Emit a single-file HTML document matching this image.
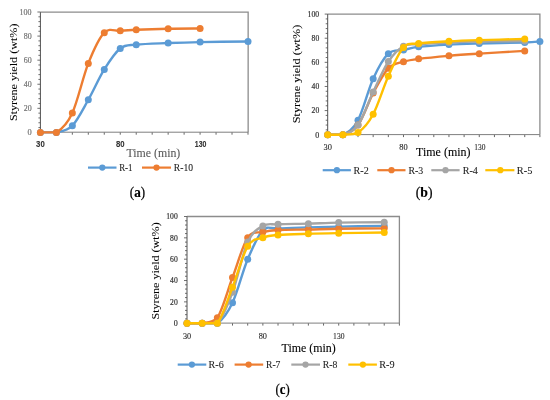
<!DOCTYPE html>
<html><head><meta charset="utf-8"><title>Styrene yield</title>
<style>html,body{margin:0;padding:0;background:#fff;width:550px;height:400px;overflow:hidden}svg{display:block}</style>
</head><body>
<svg width="550" height="400" viewBox="0 0 550 400">
<rect width="550" height="400" fill="#fff"/>
<path d="M40.40,12.15H248.15V132.20" fill="none" stroke="#8c8c8c" stroke-width="1.30"/>
<path d="M37.40,132.40H40.40M38.40,127.58H40.40M38.40,122.77H40.40M38.40,117.95H40.40M38.40,113.14H40.40M37.40,108.32H40.40M38.40,103.50H40.40M38.40,98.69H40.40M38.40,93.87H40.40M38.40,89.06H40.40M37.40,84.24H40.40M38.40,79.42H40.40M38.40,74.61H40.40M38.40,69.79H40.40M38.40,64.98H40.40M37.40,60.16H40.40M38.40,55.34H40.40M38.40,50.53H40.40M38.40,45.71H40.40M38.40,40.90H40.40M37.40,36.08H40.40M38.40,31.26H40.40M38.40,26.45H40.40M38.40,21.63H40.40M38.40,16.82H40.40M37.40,12.00H40.40" stroke="#606060" stroke-width="0.9" fill="none"/>
<line x1="40.40" y1="12.15" x2="40.40" y2="132.20" stroke="#505050" stroke-width="1"/>
<path d="M40.40,132.20V134.70M56.37,132.20V134.70M72.34,132.20V134.70M88.31,132.20V134.70M104.28,132.20V134.70M120.25,132.20V134.70M136.22,132.20V134.70M152.18,132.20V134.70M168.15,132.20V134.70M184.12,132.20V134.70M200.09,132.20V134.70M216.06,132.20V134.70M232.03,132.20V134.70M248.00,132.20V134.70" stroke="#555555" stroke-width="0.9" fill="none"/>
<line x1="40.40" y1="132.20" x2="248.15" y2="132.20" stroke="#7f7f7f" stroke-width="1"/>
<path d="M40.40,132.40 C43.06,132.40 51.05,132.40 56.37,132.40 C61.69,131.28 67.02,131.10 72.34,125.66 C77.66,120.22 82.98,109.14 88.31,99.77 C93.63,90.40 98.95,77.98 104.28,69.43 C109.60,60.88 114.92,52.61 120.25,48.48 C125.57,44.35 128.23,45.53 136.22,44.63 C144.20,43.73 157.51,43.48 168.15,43.06 C178.80,42.64 186.78,42.36 200.09,42.10 C213.40,41.84 240.02,41.60 248.00,41.50" stroke="#5B9BD5" stroke-width="2.40" fill="none" stroke-linejoin="round" stroke-linecap="round"/>
<circle cx="40.40" cy="132.40" r="3.50" fill="#5B9BD5"/>
<circle cx="56.37" cy="132.40" r="3.50" fill="#5B9BD5"/>
<circle cx="72.34" cy="125.66" r="3.50" fill="#5B9BD5"/>
<circle cx="88.31" cy="99.77" r="3.50" fill="#5B9BD5"/>
<circle cx="104.28" cy="69.43" r="3.50" fill="#5B9BD5"/>
<circle cx="120.25" cy="48.48" r="3.50" fill="#5B9BD5"/>
<circle cx="136.22" cy="44.63" r="3.50" fill="#5B9BD5"/>
<circle cx="168.15" cy="43.06" r="3.50" fill="#5B9BD5"/>
<circle cx="200.09" cy="42.10" r="3.50" fill="#5B9BD5"/>
<circle cx="248.00" cy="41.50" r="3.50" fill="#5B9BD5"/>
<path d="M40.40,132.40 C43.06,132.40 51.05,132.40 56.37,132.40 C61.69,129.15 67.02,124.39 72.34,112.90 C77.66,101.40 82.98,76.78 88.31,63.41 C93.63,50.05 98.95,38.15 104.28,32.71 C109.60,27.27 114.92,31.28 120.25,30.78 C125.57,30.28 128.23,30.04 136.22,29.70 C144.20,29.36 157.51,28.94 168.15,28.74 C178.80,28.53 194.77,28.53 200.09,28.49" stroke="#ED7D31" stroke-width="2.40" fill="none" stroke-linejoin="round" stroke-linecap="round"/>
<circle cx="40.40" cy="132.40" r="3.50" fill="#ED7D31"/>
<circle cx="56.37" cy="132.40" r="3.50" fill="#ED7D31"/>
<circle cx="72.34" cy="112.90" r="3.50" fill="#ED7D31"/>
<circle cx="88.31" cy="63.41" r="3.50" fill="#ED7D31"/>
<circle cx="104.28" cy="32.71" r="3.50" fill="#ED7D31"/>
<circle cx="120.25" cy="30.78" r="3.50" fill="#ED7D31"/>
<circle cx="136.22" cy="29.70" r="3.50" fill="#ED7D31"/>
<circle cx="168.15" cy="28.74" r="3.50" fill="#ED7D31"/>
<circle cx="200.09" cy="28.49" r="3.50" fill="#ED7D31"/>
<text x="31.60" y="135.40" font-family='"Liberation Serif", serif' font-size="9.00" fill="#737373" text-anchor="end" font-weight="normal" textLength="4.20" lengthAdjust="spacingAndGlyphs" stroke="#737373" stroke-width="0.20">0</text>
<text x="31.60" y="111.32" font-family='"Liberation Serif", serif' font-size="9.00" fill="#737373" text-anchor="end" font-weight="normal" textLength="7.90" lengthAdjust="spacingAndGlyphs" stroke="#737373" stroke-width="0.20">20</text>
<text x="31.60" y="87.24" font-family='"Liberation Serif", serif' font-size="9.00" fill="#737373" text-anchor="end" font-weight="normal" textLength="7.90" lengthAdjust="spacingAndGlyphs" stroke="#737373" stroke-width="0.20">40</text>
<text x="31.60" y="63.16" font-family='"Liberation Serif", serif' font-size="9.00" fill="#737373" text-anchor="end" font-weight="normal" textLength="7.90" lengthAdjust="spacingAndGlyphs" stroke="#737373" stroke-width="0.20">60</text>
<text x="31.60" y="39.08" font-family='"Liberation Serif", serif' font-size="9.00" fill="#737373" text-anchor="end" font-weight="normal" textLength="7.90" lengthAdjust="spacingAndGlyphs" stroke="#737373" stroke-width="0.20">80</text>
<text x="31.60" y="15.00" font-family='"Liberation Serif", serif' font-size="9.00" fill="#737373" text-anchor="end" font-weight="normal" textLength="12.00" lengthAdjust="spacingAndGlyphs" stroke="#737373" stroke-width="0.20">100</text>
<text x="40.40" y="146.90" font-family='"Liberation Sans", sans-serif' font-size="8.80" fill="#333333" text-anchor="middle" font-weight="bold" textLength="8.60" lengthAdjust="spacingAndGlyphs" stroke="#333333" stroke-width="0.10">30</text>
<text x="120.30" y="146.90" font-family='"Liberation Sans", sans-serif' font-size="8.80" fill="#333333" text-anchor="middle" font-weight="bold" textLength="8.60" lengthAdjust="spacingAndGlyphs" stroke="#333333" stroke-width="0.10">80</text>
<text x="200.60" y="146.90" font-family='"Liberation Sans", sans-serif' font-size="8.80" fill="#333333" text-anchor="middle" font-weight="bold" textLength="11.60" lengthAdjust="spacingAndGlyphs" stroke="#333333" stroke-width="0.10">130</text>
<text x="126.50" y="157.40" font-family='"Liberation Serif", serif' font-size="12.00" fill="#595959" text-anchor="start" font-weight="normal" textLength="53.80" lengthAdjust="spacingAndGlyphs" stroke="#595959" stroke-width="0.10">Time (min)</text>
<text transform="translate(17.40,72.30) rotate(-90)" x="0" y="0" font-family='"Liberation Serif", serif' font-size="10.40" fill="#000" stroke="#000" stroke-width="0.05" text-anchor="middle" textLength="97.50" lengthAdjust="spacingAndGlyphs">Styrene yield (wt%)</text>
<line x1="88.00" y1="167.60" x2="116.50" y2="167.60" stroke="#5B9BD5" stroke-width="2.20"/>
<circle cx="102.30" cy="167.60" r="3.15" fill="#5B9BD5"/>
<text x="119.20" y="170.90" font-family='"Liberation Serif", serif' font-size="10.10" fill="#1f1f1f" text-anchor="start" font-weight="normal" textLength="13.30" lengthAdjust="spacingAndGlyphs" stroke="#1f1f1f" stroke-width="0.10">R-1</text>
<line x1="142.00" y1="167.60" x2="171.00" y2="167.60" stroke="#ED7D31" stroke-width="2.20"/>
<circle cx="156.50" cy="167.60" r="3.15" fill="#ED7D31"/>
<text x="173.80" y="170.90" font-family='"Liberation Serif", serif' font-size="10.10" fill="#1f1f1f" text-anchor="start" font-weight="normal" textLength="19.20" lengthAdjust="spacingAndGlyphs" stroke="#1f1f1f" stroke-width="0.10">R-10</text>
<text x="129.80" y="196.70" font-family='"Liberation Serif", serif' font-size="13.60" fill="#000" stroke="#000" stroke-width="0.2" textLength="15.30" lengthAdjust="spacingAndGlyphs">(<tspan font-weight="bold">a</tspan>)</text>
<path d="M327.70,14.10H539.90V134.60" fill="none" stroke="#8c8c8c" stroke-width="1.30"/>
<path d="M324.70,134.70H327.70M325.70,129.88H327.70M325.70,125.05H327.70M325.70,120.23H327.70M325.70,115.40H327.70M324.70,110.58H327.70M325.70,105.76H327.70M325.70,100.93H327.70M325.70,96.11H327.70M325.70,91.28H327.70M324.70,86.46H327.70M325.70,81.64H327.70M325.70,76.81H327.70M325.70,71.99H327.70M325.70,67.16H327.70M324.70,62.34H327.70M325.70,57.52H327.70M325.70,52.69H327.70M325.70,47.87H327.70M325.70,43.04H327.70M324.70,38.22H327.70M325.70,33.40H327.70M325.70,28.57H327.70M325.70,23.75H327.70M325.70,18.92H327.70M324.70,14.10H327.70" stroke="#606060" stroke-width="0.9" fill="none"/>
<line x1="327.70" y1="14.10" x2="327.70" y2="134.60" stroke="#505050" stroke-width="1"/>
<path d="M327.70,134.60V137.10M342.86,134.60V137.10M358.01,134.60V137.10M373.17,134.60V137.10M388.33,134.60V137.10M403.49,134.60V137.10M418.64,134.60V137.10M433.80,134.60V137.10M448.96,134.60V137.10M464.11,134.60V137.10M479.27,134.60V137.10M494.43,134.60V137.10M509.59,134.60V137.10M524.74,134.60V137.10M539.90,134.60V137.10" stroke="#555555" stroke-width="0.9" fill="none"/>
<line x1="327.70" y1="134.60" x2="539.90" y2="134.60" stroke="#7f7f7f" stroke-width="1"/>
<path d="M327.70,134.70 C330.23,134.70 337.80,134.70 342.86,134.70 C347.91,132.29 352.96,129.55 358.01,120.23 C363.07,110.90 368.12,89.84 373.17,78.74 C378.22,67.65 383.28,58.44 388.33,53.66 C393.38,48.87 398.43,51.18 403.49,50.04 C408.54,48.89 411.06,47.69 418.64,46.78 C426.22,45.88 438.85,45.15 448.96,44.61 C459.06,44.07 466.64,43.89 479.27,43.53 C491.90,43.16 514.64,42.78 524.74,42.44 C534.85,42.10 537.37,41.64 539.90,41.48" stroke="#5B9BD5" stroke-width="2.40" fill="none" stroke-linejoin="round" stroke-linecap="round"/>
<circle cx="327.70" cy="134.70" r="3.50" fill="#5B9BD5"/>
<circle cx="342.86" cy="134.70" r="3.50" fill="#5B9BD5"/>
<circle cx="358.01" cy="120.23" r="3.50" fill="#5B9BD5"/>
<circle cx="373.17" cy="78.74" r="3.50" fill="#5B9BD5"/>
<circle cx="388.33" cy="53.66" r="3.50" fill="#5B9BD5"/>
<circle cx="403.49" cy="50.04" r="3.50" fill="#5B9BD5"/>
<circle cx="418.64" cy="46.78" r="3.50" fill="#5B9BD5"/>
<circle cx="448.96" cy="44.61" r="3.50" fill="#5B9BD5"/>
<circle cx="479.27" cy="43.53" r="3.50" fill="#5B9BD5"/>
<circle cx="524.74" cy="42.44" r="3.50" fill="#5B9BD5"/>
<circle cx="539.90" cy="41.48" r="3.50" fill="#5B9BD5"/>
<path d="M327.70,134.70 C330.23,134.70 337.80,134.70 342.86,134.70 C347.91,133.09 352.96,131.99 358.01,125.05 C363.07,118.12 368.12,102.54 373.17,93.09 C378.22,83.65 383.28,73.60 388.33,68.37 C393.38,63.14 398.43,63.32 403.49,61.74 C408.54,60.15 411.06,59.83 418.64,58.84 C426.22,57.86 438.85,56.69 448.96,55.83 C459.06,54.96 466.64,54.48 479.27,53.66 C491.90,52.83 517.16,51.35 524.74,50.88" stroke="#ED7D31" stroke-width="2.40" fill="none" stroke-linejoin="round" stroke-linecap="round"/>
<circle cx="327.70" cy="134.70" r="3.50" fill="#ED7D31"/>
<circle cx="342.86" cy="134.70" r="3.50" fill="#ED7D31"/>
<circle cx="358.01" cy="125.05" r="3.50" fill="#ED7D31"/>
<circle cx="373.17" cy="93.09" r="3.50" fill="#ED7D31"/>
<circle cx="388.33" cy="68.37" r="3.50" fill="#ED7D31"/>
<circle cx="403.49" cy="61.74" r="3.50" fill="#ED7D31"/>
<circle cx="418.64" cy="58.84" r="3.50" fill="#ED7D31"/>
<circle cx="448.96" cy="55.83" r="3.50" fill="#ED7D31"/>
<circle cx="479.27" cy="53.66" r="3.50" fill="#ED7D31"/>
<circle cx="524.74" cy="50.88" r="3.50" fill="#ED7D31"/>
<path d="M327.70,134.70 C330.23,134.70 337.80,134.70 342.86,134.70 C347.91,133.09 352.96,132.17 358.01,125.05 C363.07,117.94 368.12,102.58 373.17,92.01 C378.22,81.44 383.28,69.25 388.33,61.62 C393.38,53.98 398.43,49.07 403.49,46.18 C408.54,43.29 411.06,44.87 418.64,44.25 C426.22,43.63 438.85,42.90 448.96,42.44 C459.06,41.98 466.64,41.70 479.27,41.48 C491.90,41.26 517.16,41.17 524.74,41.11" stroke="#A5A5A5" stroke-width="2.40" fill="none" stroke-linejoin="round" stroke-linecap="round"/>
<circle cx="327.70" cy="134.70" r="3.50" fill="#A5A5A5"/>
<circle cx="342.86" cy="134.70" r="3.50" fill="#A5A5A5"/>
<circle cx="358.01" cy="125.05" r="3.50" fill="#A5A5A5"/>
<circle cx="373.17" cy="92.01" r="3.50" fill="#A5A5A5"/>
<circle cx="388.33" cy="61.62" r="3.50" fill="#A5A5A5"/>
<circle cx="403.49" cy="46.18" r="3.50" fill="#A5A5A5"/>
<circle cx="418.64" cy="44.25" r="3.50" fill="#A5A5A5"/>
<circle cx="448.96" cy="42.44" r="3.50" fill="#A5A5A5"/>
<circle cx="479.27" cy="41.48" r="3.50" fill="#A5A5A5"/>
<circle cx="524.74" cy="41.11" r="3.50" fill="#A5A5A5"/>
<path d="M327.70,134.70 C330.23,134.70 337.80,134.70 342.86,134.70 C347.91,134.34 352.96,134.70 358.01,132.53 C363.07,129.11 368.12,123.58 373.17,114.20 C378.22,104.81 383.28,87.34 388.33,76.21 C393.38,65.07 398.43,52.83 403.49,47.39 C408.54,41.94 411.06,44.53 418.64,43.53 C426.22,42.52 438.85,41.92 448.96,41.36 C459.06,40.79 466.64,40.55 479.27,40.15 C491.90,39.75 517.16,39.14 524.74,38.94" stroke="#FFC000" stroke-width="2.40" fill="none" stroke-linejoin="round" stroke-linecap="round"/>
<circle cx="327.70" cy="134.70" r="3.50" fill="#FFC000"/>
<circle cx="342.86" cy="134.70" r="3.50" fill="#FFC000"/>
<circle cx="358.01" cy="132.53" r="3.50" fill="#FFC000"/>
<circle cx="373.17" cy="114.20" r="3.50" fill="#FFC000"/>
<circle cx="388.33" cy="76.21" r="3.50" fill="#FFC000"/>
<circle cx="403.49" cy="47.39" r="3.50" fill="#FFC000"/>
<circle cx="418.64" cy="43.53" r="3.50" fill="#FFC000"/>
<circle cx="448.96" cy="41.36" r="3.50" fill="#FFC000"/>
<circle cx="479.27" cy="40.15" r="3.50" fill="#FFC000"/>
<circle cx="524.74" cy="38.94" r="3.50" fill="#FFC000"/>
<text x="319.20" y="137.60" font-family='"Liberation Serif", serif' font-size="8.40" fill="#333333" text-anchor="end" font-weight="normal" textLength="4.00" lengthAdjust="spacingAndGlyphs" stroke="#333333" stroke-width="0.20">0</text>
<text x="319.20" y="113.48" font-family='"Liberation Serif", serif' font-size="8.40" fill="#333333" text-anchor="end" font-weight="normal" textLength="7.60" lengthAdjust="spacingAndGlyphs" stroke="#333333" stroke-width="0.20">20</text>
<text x="319.20" y="89.36" font-family='"Liberation Serif", serif' font-size="8.40" fill="#333333" text-anchor="end" font-weight="normal" textLength="7.60" lengthAdjust="spacingAndGlyphs" stroke="#333333" stroke-width="0.20">40</text>
<text x="319.20" y="65.24" font-family='"Liberation Serif", serif' font-size="8.40" fill="#333333" text-anchor="end" font-weight="normal" textLength="7.60" lengthAdjust="spacingAndGlyphs" stroke="#333333" stroke-width="0.20">60</text>
<text x="319.20" y="41.12" font-family='"Liberation Serif", serif' font-size="8.40" fill="#333333" text-anchor="end" font-weight="normal" textLength="7.60" lengthAdjust="spacingAndGlyphs" stroke="#333333" stroke-width="0.20">80</text>
<text x="319.20" y="17.00" font-family='"Liberation Serif", serif' font-size="8.40" fill="#333333" text-anchor="end" font-weight="normal" textLength="11.60" lengthAdjust="spacingAndGlyphs" stroke="#333333" stroke-width="0.20">100</text>
<text x="327.70" y="149.70" font-family='"Liberation Serif", serif' font-size="8.20" fill="#262626" text-anchor="middle" font-weight="normal" textLength="8.40" lengthAdjust="spacingAndGlyphs" stroke="#262626" stroke-width="0.10">30</text>
<text x="403.50" y="149.70" font-family='"Liberation Serif", serif' font-size="8.20" fill="#262626" text-anchor="middle" font-weight="normal" textLength="8.40" lengthAdjust="spacingAndGlyphs" stroke="#262626" stroke-width="0.10">80</text>
<text x="479.80" y="149.70" font-family='"Liberation Serif", serif' font-size="8.20" fill="#262626" text-anchor="middle" font-weight="normal" textLength="11.20" lengthAdjust="spacingAndGlyphs" stroke="#262626" stroke-width="0.10">130</text>
<text x="416.10" y="155.50" font-family='"Liberation Serif", serif' font-size="11.70" fill="#000" text-anchor="start" font-weight="normal" textLength="54.40" lengthAdjust="spacingAndGlyphs" stroke="#000" stroke-width="0.10">Time (min)</text>
<text transform="translate(300.30,74.00) rotate(-90)" x="0" y="0" font-family='"Liberation Serif", serif' font-size="10.40" fill="#000" stroke="#000" stroke-width="0.05" text-anchor="middle" textLength="98.50" lengthAdjust="spacingAndGlyphs">Styrene yield (wt%)</text>
<line x1="322.70" y1="170.20" x2="350.90" y2="170.20" stroke="#5B9BD5" stroke-width="2.20"/>
<circle cx="336.90" cy="170.20" r="3.15" fill="#5B9BD5"/>
<text x="353.60" y="173.50" font-family='"Liberation Serif", serif' font-size="10.10" fill="#1f1f1f" text-anchor="start" font-weight="normal" textLength="15.10" lengthAdjust="spacingAndGlyphs" stroke="#1f1f1f" stroke-width="0.10">R-2</text>
<line x1="377.30" y1="170.20" x2="405.50" y2="170.20" stroke="#ED7D31" stroke-width="2.20"/>
<circle cx="391.50" cy="170.20" r="3.15" fill="#ED7D31"/>
<text x="408.50" y="173.50" font-family='"Liberation Serif", serif' font-size="10.10" fill="#1f1f1f" text-anchor="start" font-weight="normal" textLength="14.80" lengthAdjust="spacingAndGlyphs" stroke="#1f1f1f" stroke-width="0.10">R-3</text>
<line x1="431.30" y1="170.20" x2="459.60" y2="170.20" stroke="#A5A5A5" stroke-width="2.20"/>
<circle cx="445.50" cy="170.20" r="3.15" fill="#A5A5A5"/>
<text x="462.70" y="173.50" font-family='"Liberation Serif", serif' font-size="10.10" fill="#1f1f1f" text-anchor="start" font-weight="normal" textLength="15.10" lengthAdjust="spacingAndGlyphs" stroke="#1f1f1f" stroke-width="0.10">R-4</text>
<line x1="485.30" y1="170.20" x2="514.40" y2="170.20" stroke="#FFC000" stroke-width="2.20"/>
<circle cx="500.30" cy="170.20" r="3.15" fill="#FFC000"/>
<text x="516.80" y="173.50" font-family='"Liberation Serif", serif' font-size="10.10" fill="#1f1f1f" text-anchor="start" font-weight="normal" textLength="15.50" lengthAdjust="spacingAndGlyphs" stroke="#1f1f1f" stroke-width="0.10">R-5</text>
<text x="415.80" y="197.30" font-family='"Liberation Serif", serif' font-size="13.60" fill="#000" stroke="#000" stroke-width="0.2" textLength="16.70" lengthAdjust="spacingAndGlyphs">(<tspan font-weight="bold">b</tspan>)</text>
<path d="M187.00,216.50H399.40V323.10" fill="none" stroke="#8c8c8c" stroke-width="1.30"/>
<path d="M184.00,323.20H187.00M185.00,318.93H187.00M185.00,314.66H187.00M185.00,310.40H187.00M185.00,306.13H187.00M184.00,301.86H187.00M185.00,297.59H187.00M185.00,293.32H187.00M185.00,289.06H187.00M185.00,284.79H187.00M184.00,280.52H187.00M185.00,276.25H187.00M185.00,271.98H187.00M185.00,267.72H187.00M185.00,263.45H187.00M184.00,259.18H187.00M185.00,254.91H187.00M185.00,250.64H187.00M185.00,246.38H187.00M185.00,242.11H187.00M184.00,237.84H187.00M185.00,233.57H187.00M185.00,229.30H187.00M185.00,225.04H187.00M185.00,220.77H187.00M184.00,216.50H187.00" stroke="#606060" stroke-width="0.9" fill="none"/>
<line x1="187.00" y1="216.50" x2="187.00" y2="323.10" stroke="#505050" stroke-width="1"/>
<path d="M187.00,323.10V325.60M202.17,323.10V325.60M217.34,323.10V325.60M232.51,323.10V325.60M247.69,323.10V325.60M262.86,323.10V325.60M278.03,323.10V325.60M293.20,323.10V325.60M308.37,323.10V325.60M323.54,323.10V325.60M338.71,323.10V325.60M353.89,323.10V325.60M369.06,323.10V325.60M384.23,323.10V325.60M399.40,323.10V325.60" stroke="#555555" stroke-width="0.9" fill="none"/>
<line x1="187.00" y1="323.10" x2="399.40" y2="323.10" stroke="#7f7f7f" stroke-width="1"/>
<path d="M187.00,323.20 C189.53,323.20 197.11,323.20 202.17,323.20 C207.23,323.20 212.29,323.20 217.34,323.20 C222.40,319.79 227.46,313.37 232.51,302.71 C237.57,292.06 242.63,271.34 247.69,259.29 C252.74,247.23 257.80,235.51 262.86,230.37 C267.91,225.23 270.44,228.95 278.03,228.45 C285.61,227.95 298.26,227.69 308.37,227.38 C318.49,227.08 326.07,226.89 338.71,226.64 C351.36,226.39 376.64,226.01 384.23,225.89" stroke="#5B9BD5" stroke-width="2.40" fill="none" stroke-linejoin="round" stroke-linecap="round"/>
<circle cx="187.00" cy="323.20" r="3.50" fill="#5B9BD5"/>
<circle cx="202.17" cy="323.20" r="3.50" fill="#5B9BD5"/>
<circle cx="217.34" cy="323.20" r="3.50" fill="#5B9BD5"/>
<circle cx="232.51" cy="302.71" r="3.50" fill="#5B9BD5"/>
<circle cx="247.69" cy="259.29" r="3.50" fill="#5B9BD5"/>
<circle cx="262.86" cy="230.37" r="3.50" fill="#5B9BD5"/>
<circle cx="278.03" cy="228.45" r="3.50" fill="#5B9BD5"/>
<circle cx="308.37" cy="227.38" r="3.50" fill="#5B9BD5"/>
<circle cx="338.71" cy="226.64" r="3.50" fill="#5B9BD5"/>
<circle cx="384.23" cy="225.89" r="3.50" fill="#5B9BD5"/>
<path d="M187.00,323.20 C189.53,323.20 197.11,323.20 202.17,323.20 C207.23,322.29 212.29,323.20 217.34,317.76 C222.40,310.15 227.46,290.89 232.51,277.53 C237.57,264.18 242.63,245.20 247.69,237.63 C252.74,230.05 257.80,233.34 262.86,232.08 C267.91,230.82 270.44,230.48 278.03,230.05 C285.61,229.62 298.26,229.73 308.37,229.52 C318.49,229.30 326.07,228.97 338.71,228.77 C351.36,228.57 376.64,228.41 384.23,228.34" stroke="#ED7D31" stroke-width="2.40" fill="none" stroke-linejoin="round" stroke-linecap="round"/>
<circle cx="187.00" cy="323.20" r="3.50" fill="#ED7D31"/>
<circle cx="202.17" cy="323.20" r="3.50" fill="#ED7D31"/>
<circle cx="217.34" cy="317.76" r="3.50" fill="#ED7D31"/>
<circle cx="232.51" cy="277.53" r="3.50" fill="#ED7D31"/>
<circle cx="247.69" cy="237.63" r="3.50" fill="#ED7D31"/>
<circle cx="262.86" cy="232.08" r="3.50" fill="#ED7D31"/>
<circle cx="278.03" cy="230.05" r="3.50" fill="#ED7D31"/>
<circle cx="308.37" cy="229.52" r="3.50" fill="#ED7D31"/>
<circle cx="338.71" cy="228.77" r="3.50" fill="#ED7D31"/>
<circle cx="384.23" cy="228.34" r="3.50" fill="#ED7D31"/>
<path d="M187.00,323.20 C189.53,323.20 197.11,323.20 202.17,323.20 C207.23,323.20 212.29,323.20 217.34,323.20 C222.40,318.04 227.46,305.77 232.51,292.26 C237.57,278.74 242.63,253.17 247.69,242.11 C252.74,231.05 257.80,228.86 262.86,225.89 C267.91,222.92 270.44,224.66 278.03,224.29 C285.61,223.92 298.26,223.93 308.37,223.65 C318.49,223.36 326.07,222.81 338.71,222.58 C351.36,222.35 376.64,222.32 384.23,222.26" stroke="#A5A5A5" stroke-width="2.40" fill="none" stroke-linejoin="round" stroke-linecap="round"/>
<circle cx="187.00" cy="323.20" r="3.50" fill="#A5A5A5"/>
<circle cx="202.17" cy="323.20" r="3.50" fill="#A5A5A5"/>
<circle cx="217.34" cy="323.20" r="3.50" fill="#A5A5A5"/>
<circle cx="232.51" cy="292.26" r="3.50" fill="#A5A5A5"/>
<circle cx="247.69" cy="242.11" r="3.50" fill="#A5A5A5"/>
<circle cx="262.86" cy="225.89" r="3.50" fill="#A5A5A5"/>
<circle cx="278.03" cy="224.29" r="3.50" fill="#A5A5A5"/>
<circle cx="308.37" cy="223.65" r="3.50" fill="#A5A5A5"/>
<circle cx="338.71" cy="222.58" r="3.50" fill="#A5A5A5"/>
<circle cx="384.23" cy="222.26" r="3.50" fill="#A5A5A5"/>
<path d="M187.00,323.20 C189.53,323.20 197.11,323.20 202.17,323.20 C207.23,323.20 212.29,323.20 217.34,323.20 C222.40,317.21 227.46,300.06 232.51,287.24 C237.57,274.42 242.63,254.54 247.69,246.27 C252.74,238.00 257.80,239.51 262.86,237.63 C267.91,235.74 270.44,235.60 278.03,234.96 C285.61,234.32 298.26,234.09 308.37,233.79 C318.49,233.48 326.07,233.36 338.71,233.15 C351.36,232.93 376.64,232.61 384.23,232.50" stroke="#FFC000" stroke-width="2.40" fill="none" stroke-linejoin="round" stroke-linecap="round"/>
<circle cx="187.00" cy="323.20" r="3.50" fill="#FFC000"/>
<circle cx="202.17" cy="323.20" r="3.50" fill="#FFC000"/>
<circle cx="217.34" cy="323.20" r="3.50" fill="#FFC000"/>
<circle cx="232.51" cy="287.24" r="3.50" fill="#FFC000"/>
<circle cx="247.69" cy="246.27" r="3.50" fill="#FFC000"/>
<circle cx="262.86" cy="237.63" r="3.50" fill="#FFC000"/>
<circle cx="278.03" cy="234.96" r="3.50" fill="#FFC000"/>
<circle cx="308.37" cy="233.79" r="3.50" fill="#FFC000"/>
<circle cx="338.71" cy="233.15" r="3.50" fill="#FFC000"/>
<circle cx="384.23" cy="232.50" r="3.50" fill="#FFC000"/>
<text x="177.70" y="326.10" font-family='"Liberation Serif", serif' font-size="8.40" fill="#333333" text-anchor="end" font-weight="normal" textLength="4.00" lengthAdjust="spacingAndGlyphs" stroke="#333333" stroke-width="0.20">0</text>
<text x="177.70" y="304.76" font-family='"Liberation Serif", serif' font-size="8.40" fill="#333333" text-anchor="end" font-weight="normal" textLength="7.60" lengthAdjust="spacingAndGlyphs" stroke="#333333" stroke-width="0.20">20</text>
<text x="177.70" y="283.42" font-family='"Liberation Serif", serif' font-size="8.40" fill="#333333" text-anchor="end" font-weight="normal" textLength="7.60" lengthAdjust="spacingAndGlyphs" stroke="#333333" stroke-width="0.20">40</text>
<text x="177.70" y="262.08" font-family='"Liberation Serif", serif' font-size="8.40" fill="#333333" text-anchor="end" font-weight="normal" textLength="7.60" lengthAdjust="spacingAndGlyphs" stroke="#333333" stroke-width="0.20">60</text>
<text x="177.70" y="240.74" font-family='"Liberation Serif", serif' font-size="8.40" fill="#333333" text-anchor="end" font-weight="normal" textLength="7.60" lengthAdjust="spacingAndGlyphs" stroke="#333333" stroke-width="0.20">80</text>
<text x="177.70" y="219.40" font-family='"Liberation Serif", serif' font-size="8.40" fill="#333333" text-anchor="end" font-weight="normal" textLength="11.40" lengthAdjust="spacingAndGlyphs" stroke="#333333" stroke-width="0.20">100</text>
<text x="187.00" y="338.50" font-family='"Liberation Serif", serif' font-size="8.20" fill="#262626" text-anchor="middle" font-weight="normal" textLength="8.20" lengthAdjust="spacingAndGlyphs" stroke="#262626" stroke-width="0.10">30</text>
<text x="262.80" y="338.50" font-family='"Liberation Serif", serif' font-size="8.20" fill="#262626" text-anchor="middle" font-weight="normal" textLength="8.20" lengthAdjust="spacingAndGlyphs" stroke="#262626" stroke-width="0.10">80</text>
<text x="338.80" y="338.50" font-family='"Liberation Serif", serif' font-size="8.20" fill="#262626" text-anchor="middle" font-weight="normal" textLength="11.40" lengthAdjust="spacingAndGlyphs" stroke="#262626" stroke-width="0.10">130</text>
<text x="281.60" y="351.90" font-family='"Liberation Serif", serif' font-size="12.00" fill="#000" text-anchor="start" font-weight="normal" textLength="54.20" lengthAdjust="spacingAndGlyphs" stroke="#000" stroke-width="0.10">Time (min)</text>
<text transform="translate(158.80,270.90) rotate(-90)" x="0" y="0" font-family='"Liberation Serif", serif' font-size="10.40" fill="#000" stroke="#000" stroke-width="0.05" text-anchor="middle" textLength="97.20" lengthAdjust="spacingAndGlyphs">Styrene yield (wt%)</text>
<line x1="177.70" y1="364.60" x2="206.30" y2="364.60" stroke="#5B9BD5" stroke-width="2.20"/>
<circle cx="191.90" cy="364.60" r="3.15" fill="#5B9BD5"/>
<text x="208.60" y="368.10" font-family='"Liberation Serif", serif' font-size="10.10" fill="#1f1f1f" text-anchor="start" font-weight="normal" textLength="15.10" lengthAdjust="spacingAndGlyphs" stroke="#1f1f1f" stroke-width="0.10">R-6</text>
<line x1="234.60" y1="364.60" x2="263.20" y2="364.60" stroke="#ED7D31" stroke-width="2.20"/>
<circle cx="248.60" cy="364.60" r="3.15" fill="#ED7D31"/>
<text x="266.00" y="368.10" font-family='"Liberation Serif", serif' font-size="10.10" fill="#1f1f1f" text-anchor="start" font-weight="normal" textLength="14.40" lengthAdjust="spacingAndGlyphs" stroke="#1f1f1f" stroke-width="0.10">R-7</text>
<line x1="291.30" y1="364.60" x2="320.00" y2="364.60" stroke="#A5A5A5" stroke-width="2.20"/>
<circle cx="305.50" cy="364.60" r="3.15" fill="#A5A5A5"/>
<text x="322.70" y="368.10" font-family='"Liberation Serif", serif' font-size="10.10" fill="#1f1f1f" text-anchor="start" font-weight="normal" textLength="14.60" lengthAdjust="spacingAndGlyphs" stroke="#1f1f1f" stroke-width="0.10">R-8</text>
<line x1="348.30" y1="364.60" x2="376.90" y2="364.60" stroke="#FFC000" stroke-width="2.20"/>
<circle cx="362.90" cy="364.60" r="3.15" fill="#FFC000"/>
<text x="379.20" y="368.10" font-family='"Liberation Serif", serif' font-size="10.10" fill="#1f1f1f" text-anchor="start" font-weight="normal" textLength="15.30" lengthAdjust="spacingAndGlyphs" stroke="#1f1f1f" stroke-width="0.10">R-9</text>
<text x="275.60" y="393.50" font-family='"Liberation Serif", serif' font-size="13.60" fill="#000" stroke="#000" stroke-width="0.2" textLength="14.20" lengthAdjust="spacingAndGlyphs">(<tspan font-weight="bold">c</tspan>)</text>
</svg>
</body></html>
